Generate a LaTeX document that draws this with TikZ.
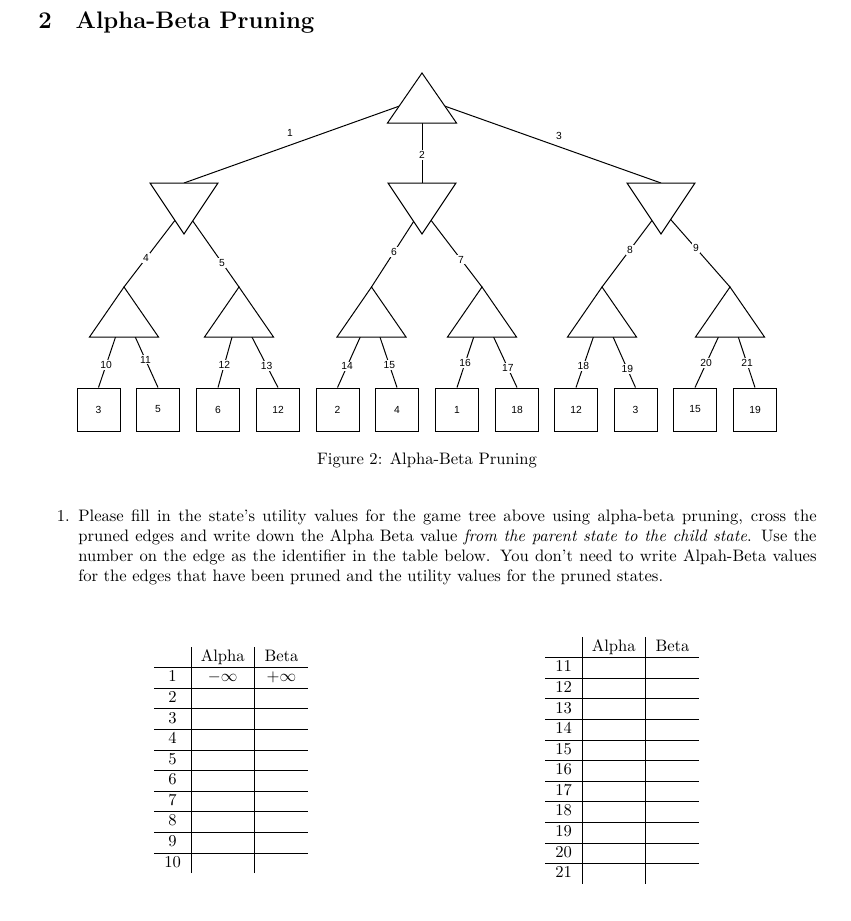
\documentclass[tikz,border=0pt]{standalone}
\usepackage{fontspec}
\newfontfamily\treefont{Liberation Sans}
\usetikzlibrary{calc}

\tikzset{
  tri/.style={draw, fill=white, line width=0.6pt, line join=miter},
  link/.style={line width=0.6pt},
  lbl/.style={font=\treefont\fontsize{6.2}{7}\selectfont, inner sep=0.8pt, fill=white},
  leaf/.style={draw, line width=0.6pt, minimum size=25.9pt, inner sep=0pt, font=\treefont\fontsize{6.2}{7}\selectfont}
}

\begin{document}
\begin{tikzpicture}[x=0.6024pt, y=-0.6024pt]
    \path[use as bounding box, fill=white] (0,0) rectangle (850,921);

    % Section heading
    \node[anchor=base west, inner sep=0] (title) at (38,28.5) {\Large\bfseries 2\quad Alpha-Beta Pruning};

    % Tree positions: max root, min layer, max layer
    \coordinate (r) at (422,98);
    \coordinate (m1) at (184,208.5); \coordinate (m1t) at (184,183);
    \coordinate (m2) at (422,208.5); \coordinate (m2t) at (422,183);
    \coordinate (m3) at (661,208.5); \coordinate (m3t) at (661,183);
    \coordinate (a1) at (124,312); \coordinate (a1t) at (124,287);
    \coordinate (a2) at (239,312); \coordinate (a2t) at (239,287);
    \coordinate (a3) at (371.5,312); \coordinate (a3t) at (371.5,287);
    \coordinate (a4) at (482,312); \coordinate (a4t) at (482,287);
    \coordinate (a5) at (602,312); \coordinate (a5t) at (602,287);
    \coordinate (a6) at (730,312); \coordinate (a6t) at (730,287);

    % Terminal states
    \node[leaf] (l1) at (98.5,409.5) {3};
    \node[leaf] (l2) at (158,409.5) {5};
    \node[leaf] (l3) at (218,409.5) {6};
    \node[leaf] (l4) at (278,409.5) {12};
    \node[leaf] (l5) at (337.5,409.5) {2};
    \node[leaf] (l6) at (397,409.5) {4};
    \node[leaf] (l7) at (457,409.5) {1};
    \node[leaf] (l8) at (517,409.5) {18};
    \node[leaf] (l9) at (576,409.5) {12};
    \node[leaf] (l10) at (635.5,409.5) {3};
    \node[leaf] (l11) at (695,409.5) {15};
    \node[leaf] (l12) at (755,409.5) {19};

    % Edges root -> min
    \draw[link] (r) -- (m1t) node[lbl, pos=0.555, above=4pt] {1};
    \draw[link] (r) -- (m2t) node[lbl, pos=0.67] {2};
    \draw[link] (r) -- (m3t) node[lbl, pos=0.573, above=3pt] {3};

    % Edges min -> max
    \draw[link] (m1) -- (a1t) node[lbl, pos=0.633] {4};
    \draw[link] (m1) -- (a2t) node[lbl, pos=0.69] {5};
    \draw[link] (m2) -- (a3t) node[lbl, pos=0.554] {6};
    \draw[link] (m2) -- (a4t) node[lbl, pos=0.65] {7};
    \draw[link] (m3) -- (a5t) node[lbl, pos=0.525] {8};
    \draw[link] (m3) -- (a6t) node[lbl, pos=0.507] {9};

    % Edges max -> terminal
    \draw[link] (a1) -- (l1.north) node[lbl, pos=0.70] {10};
    \draw[link] (a1) -- (l2.north) node[lbl, pos=0.63] {11};
    \draw[link] (a2) -- (l3.north) node[lbl, pos=0.70] {12};
    \draw[link] (a2) -- (l4.north) node[lbl, pos=0.71] {13};
    \draw[link] (a3) -- (l5.north) node[lbl, pos=0.72] {14};
    \draw[link] (a3) -- (l6.north) node[lbl, pos=0.70] {15};
    \draw[link] (a4) -- (l7.north) node[lbl, pos=0.68] {16};
    \draw[link] (a4) -- (l8.north) node[lbl, pos=0.74] {17};
    \draw[link] (a5) -- (l9.north) node[lbl, pos=0.72] {18};
    \draw[link] (a5) -- (l10.north) node[lbl, pos=0.76] {19};
    \draw[link] (a6) -- (l11.north) node[lbl, pos=0.68] {20};
    \draw[link] (a6) -- (l12.north) node[lbl, pos=0.68] {21};

    % Triangles on top (cover the edge starts)
    \foreach \n in {r,a1,a2,a3,a4,a5,a6}
        \draw[tri] ($(\n)+(0,-25)$) -- ($(\n)+(34.5,25)$) -- ($(\n)+(-34.5,25)$) -- cycle;
    \foreach \n in {m1,m2,m3}
        \draw[tri] ($(\n)+(0,25.5)$) -- ($(\n)+(34,-25.5)$) -- ($(\n)+(-34,-25.5)$) -- cycle;

    % Caption
    \node[anchor=base, inner sep=0] (caption) at (427,464.5) {Figure 2: Alpha-Beta Pruning};

    % Task text
    \node[anchor=base east, inner sep=0] (itemnum) at (70,521) {1.};
    \node[anchor=north west, inner sep=0, text width=444.75pt, align=justify] (task) at (78,509.5)
        {\noindent Please fill in the state's utility values for the game tree above using alpha-beta pruning, cross the pruned edges and write down the Alpha Beta value \emph{from the parent state to the child state}. Use the number on the edge as the identifier in the table below. You don't need to write Alpah-Beta values for the edges that have been pruned and the utility values for the pruned states.};

    % Tables
    \node[anchor=north west, inner sep=0] (tabA) at (154,647) {%
        \begin{tabular}{c|c|c}
             & Alpha & Beta \\ \hline
            1 & $-\infty$ & $+\infty$ \\ \hline
            2 & & \\ \hline
            3 & & \\ \hline
            4 & & \\ \hline
            5 & & \\ \hline
            6 & & \\ \hline
            7 & & \\ \hline
            8 & & \\ \hline
            9 & & \\ \hline
            10 & & \\
        \end{tabular}};
    \node[anchor=north west, inner sep=0] (tabB) at (545,637) {%
        \begin{tabular}{c|c|c}
             & Alpha & Beta \\ \hline
            11 & & \\ \hline
            12 & & \\ \hline
            13 & & \\ \hline
            14 & & \\ \hline
            15 & & \\ \hline
            16 & & \\ \hline
            17 & & \\ \hline
            18 & & \\ \hline
            19 & & \\ \hline
            20 & & \\ \hline
            21 & & \\
        \end{tabular}};
\end{tikzpicture}
\end{document}
